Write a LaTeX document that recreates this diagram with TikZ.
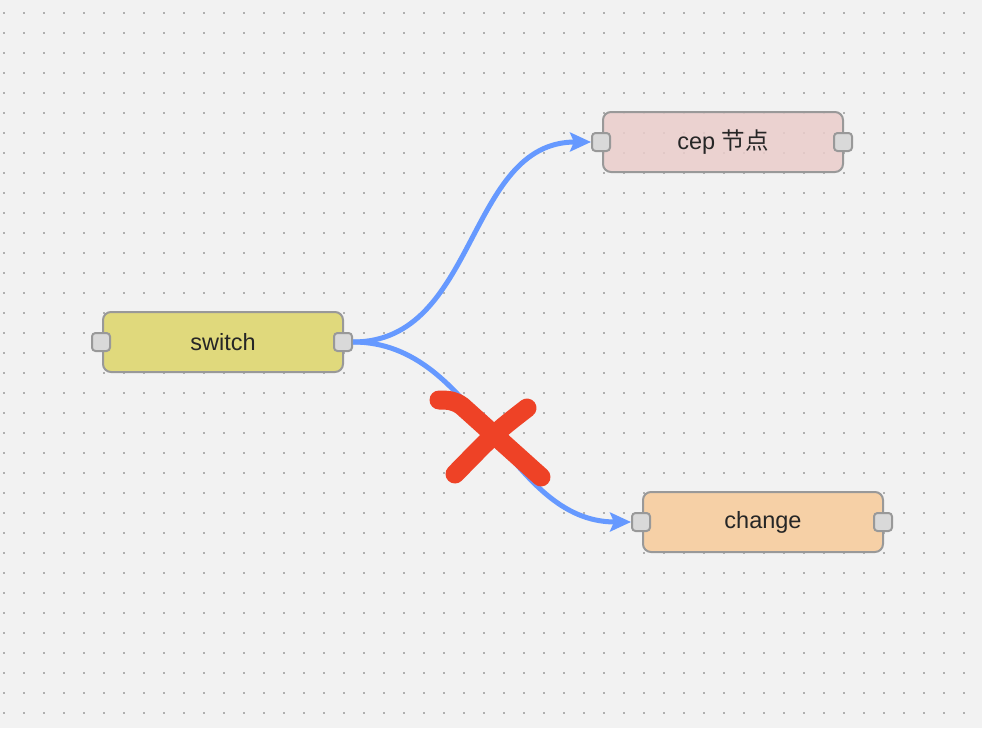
\documentclass[tikz,border=0pt]{standalone}
\usepackage{fontspec}
\setmainfont{Liberation Sans}
\newfontfamily\cjk{Noto Sans CJK SC}
\usetikzlibrary{arrows.meta}
\definecolor{bgc}{HTML}{F2F2F2}
\definecolor{dotc}{HTML}{B0B0B0}
\definecolor{edgec}{HTML}{999999}
\definecolor{portc}{HTML}{D9D9D9}
\definecolor{switchc}{HTML}{E0D97C}
\definecolor{cepc}{HTML}{EACDCB}
\definecolor{changec}{HTML}{F6D0A6}
\definecolor{wirec}{HTML}{6699FF}
\definecolor{xc}{HTML}{EE4226}
\definecolor{txtc}{HTML}{262626}
\begin{document}
\begin{tikzpicture}[x=1pt,y=-1pt,
  flownode/.style={draw=edgec, line width=2pt, rounded corners=8pt,
    minimum width=240pt, minimum height=60pt, inner sep=0pt, text=txtc,
    font=\fontsize{23.5}{28}\selectfont},
  portbox/.style={draw=edgec, fill=portc, line width=2pt, rounded corners=3.5pt,
    minimum size=18pt, inner sep=0pt},
  wire/.style={draw=wirec, line width=5pt,
    -{Stealth[length=21pt, width=19pt, inset=4pt]}},
  xmark/.style={draw=xc, line width=19pt, line cap=round, line join=round}]
\useasboundingbox (0,0) rectangle (982,728);
\fill[bgc] (0,0) rectangle (982,728);
\foreach \i in {0,...,48}{
  \foreach \j in {0,...,35}{
    \fill[dotc] ({3+20*\i},{12+20*\j}) rectangle +(2,2);
  }
}
% nodes
\node[flownode, fill=switchc] (sw) at (223,342) {switch};
\node[flownode, fill=cepc, fill opacity=0.85, text opacity=1] (cep) at (723,142) {cep {\cjk 节点}};
\node[flownode, fill=changec] (chg) at (763,522) {change};
% ports
\node[portbox] (swin) at (sw.west) [xshift=-1pt] {};
\node[portbox] (swout) at (sw.east) [xshift=-1pt] {};
\node[portbox] (cepin) at (cep.west) [xshift=-1pt] {};
\node[portbox] (cepout) at (cep.east) [xshift=-1pt] {};
\node[portbox] (chgin) at (chg.west) [xshift=-1pt] {};
\node[portbox] (chgout) at (chg.east) [xshift=-1pt] {};
% wires
\draw[wire] (swout.east) .. controls +(125,0) and +(-125,0) .. (cepin.west);
\draw[wire] (swout.east) .. controls +(125,0) and +(-125,0) .. (chgin.west);
% red cross
\draw[xmark] (439,400) .. controls (450,400) and (455,401) .. (462,406) -- (541,477);
\draw[xmark] (527,408) .. controls (496,432) .. (455,474);
\end{tikzpicture}
\end{document}
